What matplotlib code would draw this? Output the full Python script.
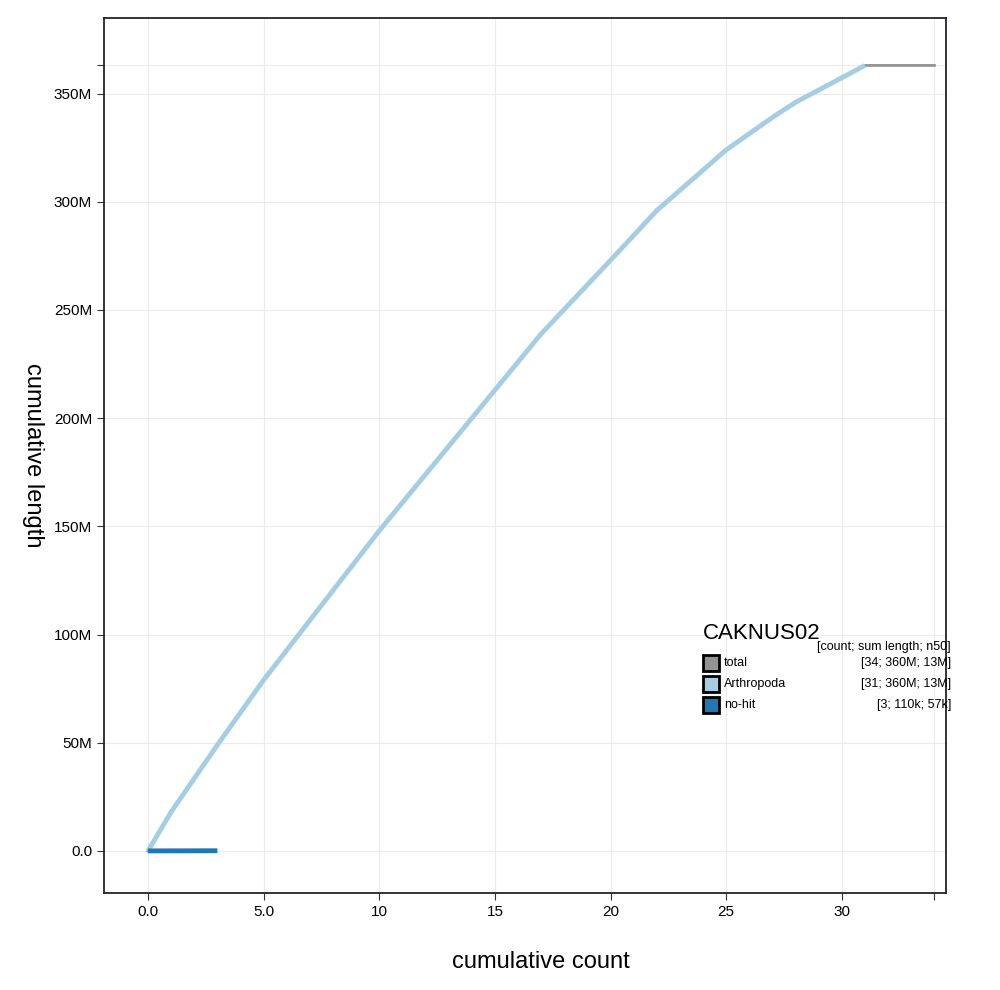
import numpy as np
import matplotlib.pyplot as plt
from matplotlib.patches import Rectangle

plt.rcParams['font.family'] = ['Liberation Sans', 'DejaVu Sans']

# cumulative count vs cumulative length (M)
arth_x = [0, 1, 3, 5, 10, 14, 17, 20, 22, 25, 27, 28, 31]
arth_y = [0, 18, 49, 79, 148, 200, 239, 273, 296, 324, 339, 346, 363]
total_x = arth_x + [34]
total_y = arth_y + [363]
nohit_x = [0, 1, 2, 3]
nohit_y = [0.04, 0.07, 0.09, 0.11]

x_ticks = [0, 5, 10, 15, 20, 25, 30, 34]
x_labels = ['0.0', '5.0', '10', '15', '20', '25', '30', '']
y_ticks = [0, 50, 100, 150, 200, 250, 300, 350, 363]
y_labels = ['0.0', '50M', '100M', '150M', '200M', '250M', '300M', '350M', '']

legend_names = ['total', 'Arthropoda', 'no-hit']
legend_stats = ['[34; 360M; 13M]', '[31; 360M; 13M]', '[3; 110k; 57k]']
colors = ['#939393', '#a6cee3', '#1f78b4']

fig = plt.figure(figsize=(10, 9.9), dpi=100)
ax = fig.add_axes([0.104, 0.098, 0.842, 0.884])

ax.plot(total_x, total_y, color=colors[0], lw=2, zorder=2)
ax.plot(arth_x, arth_y, color=colors[1], lw=3.5, zorder=3, solid_capstyle='butt')
ax.plot(nohit_x, nohit_y, color=colors[2], lw=3.5, zorder=4, solid_capstyle='butt')

ax.set_xlim(-1.9, 34.5)
ax.set_ylim(-19.4, 385)
ax.set_xticks(x_ticks)
ax.set_xticklabels(x_labels)
ax.set_yticks(y_ticks)
ax.set_yticklabels(y_labels)
ax.tick_params(labelsize=11, length=5, color='#333333')
ax.grid(True, color='#ebebeb', lw=0.8)
ax.set_axisbelow(True)
for s in ax.spines.values():
    s.set_color('#222233')
    s.set_linewidth(1.3)

fig.text(0.541, 0.028, 'cumulative count', fontsize=17, ha='center', va='center')
fig.text(0.033, 0.54, 'cumulative length', fontsize=17, ha='center', va='center',
         rotation=-90)

# legend
fig.text(0.703, 0.355, 'CAKNUS02', fontsize=16)
fig.text(0.951, 0.346, '[count; sum length; n50]', fontsize=9, ha='right', va='center')
for i, (n, st, c) in enumerate(zip(legend_names, legend_stats, colors)):
    yb = 0.330 - i * 0.0212
    fig.patches.append(Rectangle((0.703, yb - 0.008), 0.016, 0.016, transform=fig.transFigure,
                                 facecolor=c, edgecolor='black', lw=2))
    fig.text(0.724, yb, n, fontsize=9, va='center')
    fig.text(0.951, yb, st, fontsize=9, va='center', ha='right')

fig.savefig('out.png')
